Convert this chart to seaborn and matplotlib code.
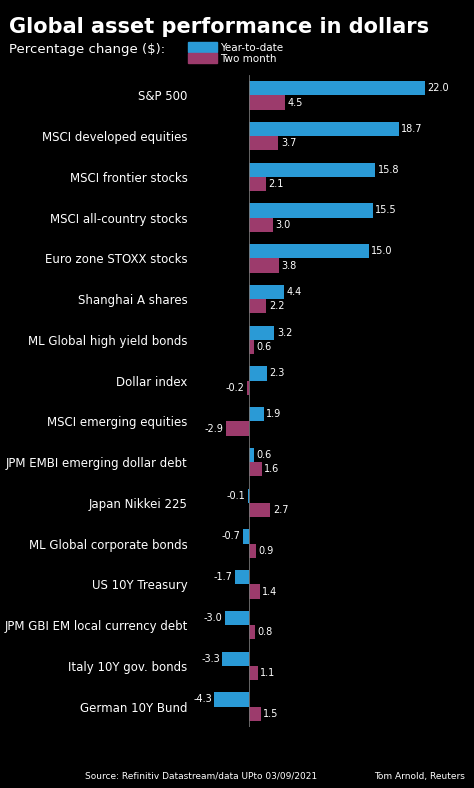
import pandas as pd
import seaborn as sns
import matplotlib.pyplot as plt
from matplotlib.patches import Patch

# Chart data
assets = ["S&P 500", "MSCI developed equities", "MSCI frontier stocks",
          "MSCI all-country stocks", "Euro zone STOXX stocks", "Shanghai A shares",
          "ML Global high yield bonds", "Dollar index", "MSCI emerging equities",
          "JPM EMBI emerging dollar debt", "Japan Nikkei 225", "ML Global corporate bonds",
          "US 10Y Treasury", "JPM GBI EM local currency debt", "Italy 10Y gov. bonds",
          "German 10Y Bund"]
ytd = [22.0, 18.7, 15.8, 15.5, 15.0, 4.4, 3.2, 2.3, 1.9, 0.6, -0.1, -0.7, -1.7, -3.0, -3.3, -4.3]
two_month = [4.5, 3.7, 2.1, 3.0, 3.8, 2.2, 0.6, -0.2, -2.9, 1.6, 2.7, 0.9, 1.4, 0.8, 1.1, 1.5]
series = ["Year-to-date", "Two month"]
colors = ["#2a9ad6", "#9c3b6c"]

df = pd.DataFrame({"asset": assets * 2,
                   "value": ytd + two_month,
                   "series": [series[0]] * len(assets) + [series[1]] * len(assets)})

fig = plt.figure(figsize=(4.74, 7.88), dpi=100, facecolor="black")
ax = fig.add_axes([200 / 474, 1 - 727 / 788, 265 / 474, 652 / 788], facecolor="black")

sns.barplot(data=df, y="asset", x="value", hue="series", palette=colors,
            orient="h", width=0.7, ax=ax, legend=False, saturation=1)

ax.set_xlim(-6.1, 27)
ax.set_ylim(len(assets) - 0.5, -0.5)
ax.axvline(0, color="#777777", lw=0.6)
ax.set_xticks([])
ax.set_xlabel("")
ax.set_ylabel("")
for s in ax.spines.values():
    s.set_visible(False)
ax.tick_params(axis="y", length=0, colors="white", labelsize=8.5, pad=9)

# Value labels
for cont in ax.containers:
    for bar in cont:
        w = bar.get_width()
        y = bar.get_y() + bar.get_height() / 2
        if w >= 0:
            ax.text(w + 0.3, y, f"{w:.1f}", color="white", fontsize=7, va="center", ha="left")
        else:
            ax.text(w - 0.3, y, f"{w:.1f}", color="white", fontsize=7, va="center", ha="right")

fig.text(0.02, 0.978, "Global asset performance in dollars", color="white",
         fontsize=15, fontweight="bold", va="top")
fig.text(0.02, 0.937, "Percentage change ($):", color="white", fontsize=9.5, va="center")
handles = [Patch(color=c, label=l) for c, l in zip(colors, series)]
fig.legend(handles=handles, loc="upper left", bbox_to_anchor=(0.385, 0.953),
           frameon=False, fontsize=7.5, labelcolor="white", handlelength=2.8,
           handleheight=1.1, labelspacing=0.05, borderpad=0, handletextpad=0.3)

fig.text(0.18, 0.012, "Source: Refinitiv Datastream/data UPto 03/09/2021", color="white",
         fontsize=6.5)
fig.text(0.98, 0.012, "Tom Arnold, Reuters", color="white", fontsize=6.5, ha="right")

fig.savefig("out.png", dpi=100, facecolor="black")
